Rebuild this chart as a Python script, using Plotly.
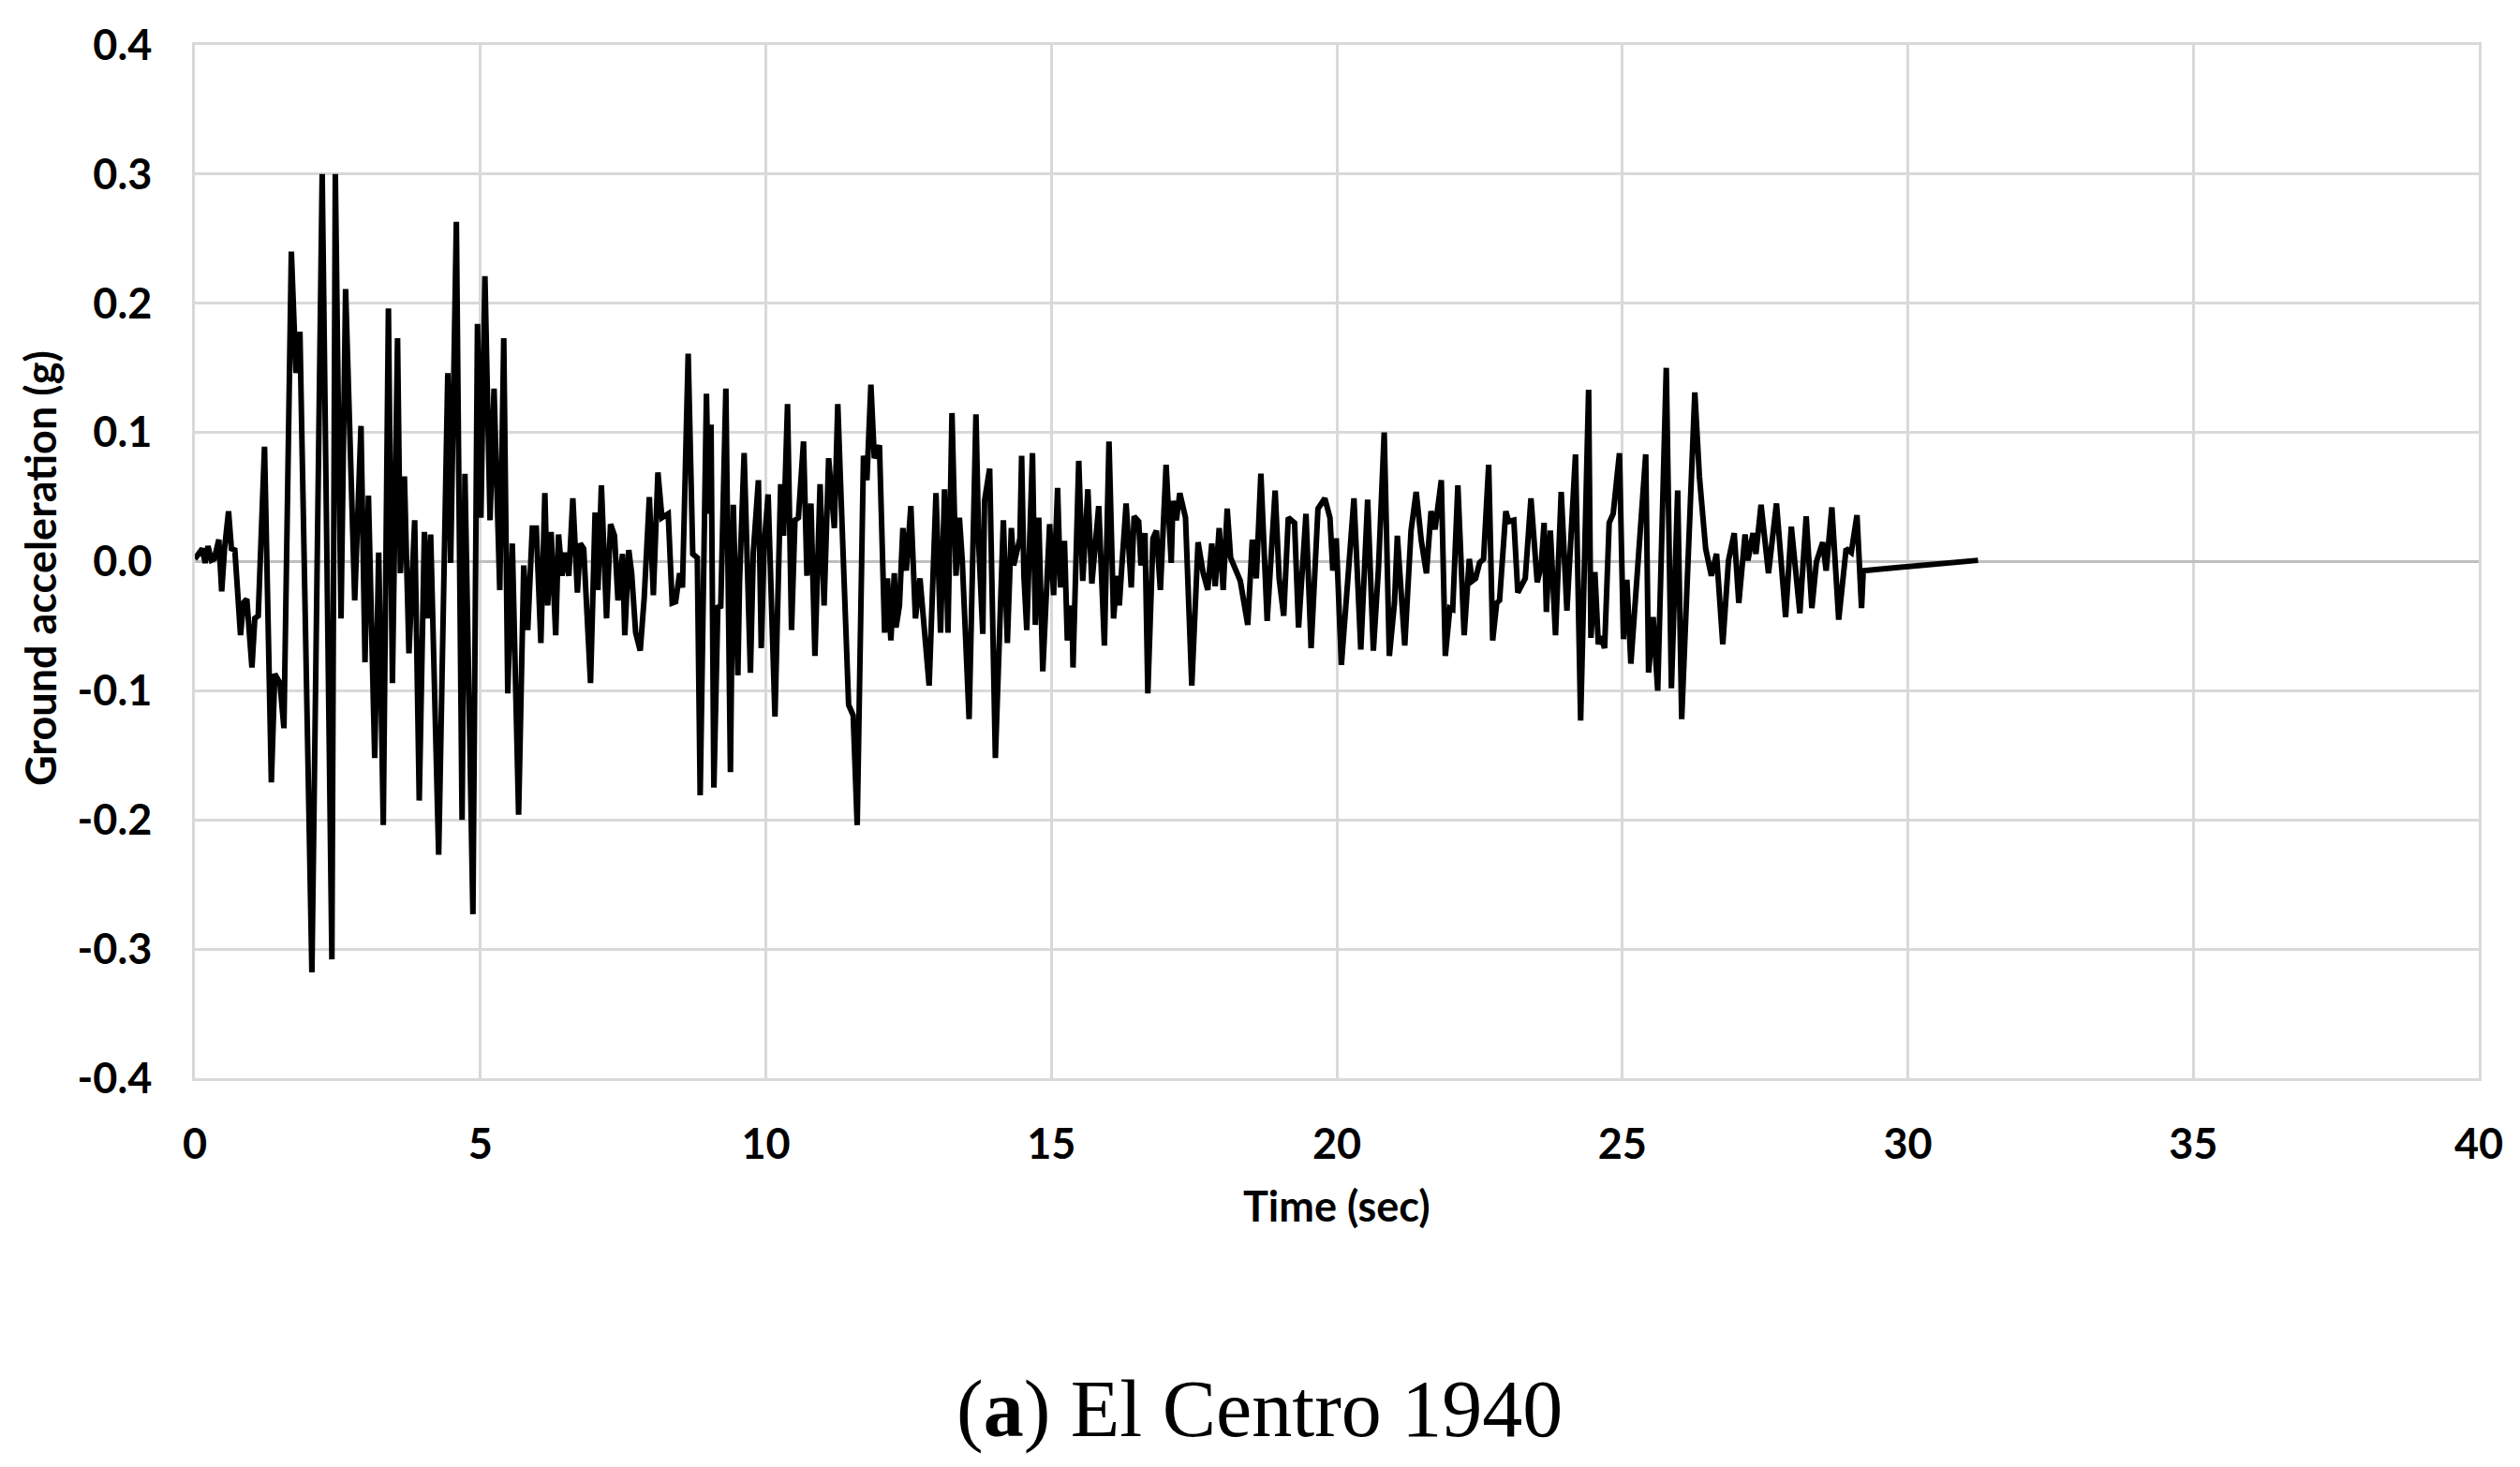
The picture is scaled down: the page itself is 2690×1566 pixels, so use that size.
import plotly.graph_objects as go

# Ground acceleration record
time_s = [
    0.00, 0.07, 0.13, 0.18, 0.23, 0.29, 0.34, 0.42, 0.47, 0.52, 0.59, 0.64, 0.70, 0.80, 0.85, 0.91,
    1.00, 1.05, 1.11, 1.22, 1.34, 1.40, 1.49, 1.56, 1.69, 1.77, 1.84, 2.05, 2.23, 2.40, 2.46, 2.56,
    2.64, 2.80, 2.91, 2.98, 3.04, 3.15, 3.22, 3.30, 3.39, 3.46, 3.55, 3.60, 3.67, 3.75, 3.85, 3.93,
    4.02, 4.07, 4.13, 4.27, 4.43, 4.48, 4.58, 4.68, 4.73, 4.87, 4.95, 5.01, 5.08, 5.17, 5.24, 5.34,
    5.41, 5.48, 5.56, 5.67, 5.76, 5.83, 5.91, 5.98, 6.06, 6.13, 6.18, 6.24, 6.32, 6.37, 6.43, 6.48,
    6.55, 6.62, 6.70, 6.75, 6.81, 6.93, 7.01, 7.06, 7.12, 7.21, 7.28, 7.35, 7.41, 7.49, 7.53, 7.60,
    7.65, 7.72, 7.80, 7.87, 7.96, 8.03, 8.11, 8.18, 8.29, 8.36, 8.42, 8.49, 8.54, 8.64, 8.72, 8.80,
    8.85, 8.96, 9.00, 9.04, 9.09, 9.16, 9.21, 9.30, 9.38, 9.43, 9.51, 9.54, 9.62, 9.73, 9.78, 9.87,
    9.92, 9.97, 10.04, 10.16, 10.26, 10.31, 10.38, 10.45, 10.51, 10.57, 10.66, 10.72, 10.79, 10.86, 10.95, 11.02,
    11.10, 11.20, 11.26, 11.31, 11.45, 11.53, 11.60, 11.71, 11.77, 11.84, 11.90, 11.99, 12.08, 12.13, 12.19, 12.25,
    12.28, 12.34, 12.40, 12.46, 12.54, 12.62, 12.70, 12.86, 12.98, 13.06, 13.13, 13.19, 13.26, 13.33, 13.39, 13.44,
    13.56, 13.68, 13.73, 13.80, 13.83, 13.92, 14.02, 14.16, 14.23, 14.30, 14.34, 14.45, 14.48, 14.52, 14.57, 14.67,
    14.72, 14.78, 14.85, 14.97, 15.04, 15.11, 15.16, 15.23, 15.28, 15.36, 15.38, 15.48, 15.55, 15.64, 15.71, 15.83,
    15.93, 16.01, 16.09, 16.15, 16.19, 16.23, 16.31, 16.40, 16.45, 16.53, 16.57, 16.64, 16.69, 16.78, 16.84, 16.91,
    17.01, 17.10, 17.13, 17.19, 17.25, 17.35, 17.46, 17.57, 17.66, 17.74, 17.81, 17.87, 17.94, 18.01, 18.08, 18.14,
    18.31, 18.44, 18.52, 18.59, 18.67, 18.78, 18.92, 18.99, 19.07, 19.15, 19.26, 19.33, 19.46, 19.55, 19.67, 19.79,
    19.88, 19.93, 19.99, 20.08, 20.16, 20.30, 20.42, 20.54, 20.64, 20.73, 20.83, 20.92, 21.01, 21.06, 21.19, 21.30,
    21.39, 21.48, 21.57, 21.65, 21.72, 21.83, 21.90, 21.98, 22.03, 22.12, 22.23, 22.32, 22.37, 22.43, 22.50, 22.57,
    22.66, 22.73, 22.80, 22.85, 22.96, 23.01, 23.10, 23.17, 23.23, 23.30, 23.40, 23.51, 23.58, 23.63, 23.67, 23.74,
    23.83, 23.93, 24.03, 24.10, 24.18, 24.27, 24.41, 24.45, 24.52, 24.58, 24.62, 24.69, 24.77, 24.84, 24.95, 25.02,
    25.08, 25.15, 25.41, 25.46, 25.54, 25.62, 25.77, 25.86, 25.97, 26.04, 26.27, 26.35, 26.46, 26.56, 26.65, 26.76,
    26.86, 26.96, 27.04, 27.15, 27.20, 27.29, 27.34, 27.43, 27.56, 27.70, 27.86, 27.96, 28.11, 28.22, 28.32, 28.40,
    28.51, 28.57, 28.67, 28.79, 28.92, 29.01, 29.11, 29.19, 29.22, 31.23,
]
accel_g = [
    0.002, 0.006, 0.010, -0.001, 0.012, 0.001, 0.002, 0.017, -0.023, 0.010, 0.039, 0.010, 0.009, -0.057, -0.032, -0.029,
    -0.082, -0.044, -0.042, 0.089, -0.171, -0.087, -0.094, -0.129, 0.240, 0.146, 0.178, -0.318, 0.300, -0.308, 0.300, -0.044,
    0.211, -0.030, 0.105, -0.078, 0.051, -0.152, 0.007, -0.204, 0.196, -0.094, 0.173, -0.009, 0.066, -0.071, 0.032, -0.185,
    0.023, -0.044, 0.021, -0.227, 0.146, -0.001, 0.263, -0.200, 0.068, -0.273, 0.184, 0.034, 0.221, 0.032, 0.134, -0.022,
    0.173, -0.102, 0.014, -0.196, -0.003, -0.053, 0.026, 0.026, -0.063, 0.053, -0.034, 0.023, -0.057, 0.021, -0.011, 0.007,
    -0.011, 0.049, -0.024, 0.014, 0.010, -0.094, 0.038, -0.022, 0.059, -0.044, 0.029, 0.020, -0.030, 0.006, -0.057, 0.009,
    -0.009, -0.055, -0.069, -0.028, 0.050, -0.026, 0.069, 0.034, 0.037, -0.032, -0.031, -0.009, -0.020, 0.161, 0.006, 0.003,
    -0.181, 0.130, 0.037, 0.106, -0.175, -0.034, -0.036, 0.134, -0.163, 0.044, -0.088, -0.015, 0.084, -0.086, 0.007, 0.063,
    -0.067, 0.012, 0.052, -0.120, 0.060, 0.020, 0.122, -0.053, 0.032, 0.034, 0.093, -0.011, 0.045, -0.073, 0.060, -0.034,
    0.080, 0.026, 0.122, 0.059, -0.111, -0.119, -0.204, 0.082, 0.063, 0.137, 0.080, 0.090, -0.055, -0.013, -0.061, -0.009,
    -0.051, -0.034, 0.026, -0.007, 0.043, -0.044, -0.013, -0.096, 0.053, -0.055, 0.056, -0.055, 0.115, -0.011, 0.034, 0.001,
    -0.122, 0.114, 0.012, -0.056, 0.047, 0.072, -0.152, 0.032, -0.063, 0.026, -0.003, 0.018, 0.082, -0.011, -0.053, 0.084,
    -0.049, 0.034, -0.085, 0.029, -0.026, 0.057, -0.020, 0.016, -0.061, -0.034, -0.082, 0.078, -0.015, 0.056, -0.017, 0.043,
    -0.065, 0.093, -0.044, -0.011, -0.034, -0.007, 0.045, -0.020, 0.035, 0.031, -0.003, 0.022, -0.102, 0.018, 0.024, -0.022,
    0.075, -0.001, 0.047, 0.032, 0.053, 0.034, -0.096, 0.015, -0.009, -0.022, 0.014, -0.019, 0.026, -0.022, 0.041, 0.003,
    -0.015, -0.049, 0.017, -0.013, 0.068, -0.046, 0.055, -0.013, -0.042, 0.034, 0.030, -0.051, 0.037, -0.067, 0.041, 0.049,
    0.034, -0.007, 0.018, -0.080, -0.032, 0.049, -0.068, 0.048, -0.069, -0.005, 0.100, -0.073, -0.032, 0.020, -0.065, 0.024,
    0.054, 0.016, -0.009, 0.039, 0.025, 0.063, -0.073, -0.036, -0.037, 0.059, -0.057, 0.002, -0.015, -0.013, -0.001, 0.002,
    0.075, -0.061, -0.032, -0.030, 0.039, 0.031, 0.032, -0.024, -0.019, -0.013, 0.049, -0.016, -0.003, 0.030, -0.039, 0.024,
    -0.057, 0.054, -0.038, 0.024, 0.083, -0.123, 0.133, -0.059, -0.008, -0.064, -0.058, -0.067, 0.030, 0.037, 0.084, -0.060,
    -0.014, -0.079, 0.083, -0.086, -0.043, -0.100, 0.150, -0.098, 0.055, -0.122, 0.131, 0.066, 0.010, -0.011, 0.006, -0.064,
    0.001, 0.022, -0.032, 0.021, 0.001, 0.022, 0.006, 0.044, -0.009, 0.045, -0.043, 0.027, -0.040, 0.035, -0.036, 0.000,
    0.015, -0.007, 0.042, -0.045, 0.010, 0.007, 0.036, -0.036, -0.007, 0.001,
]

x_tick_vals = [0, 5, 10, 15, 20, 25, 30, 35, 40]
x_tick_text = ["0", "5", "10", "15", "20", "25", "30", "35", "40"]
y_tick_vals = [-0.4, -0.3, -0.2, -0.1, 0.0, 0.1, 0.2, 0.3, 0.4]
y_tick_text = ["-0.4", "-0.3", "-0.2", "-0.1", "0.0", "0.1", "0.2", "0.3", "0.4"]

x_title = "Time (sec)"
y_title = "Ground acceleration (g)"
caption = "(<b>a</b>) El Centro 1940"

# page body adds an 8px margin, so the figure is slightly smaller than the window
W, H = 2682, 1558
L, R, T, B = 200, 44, 38, 415

grid_col = "#d9d9d9"
sans = "Lato, 'Open Sans', sans-serif"
tick_font = dict(family=sans, size=45, color="#000000", weight="bold")

fig = go.Figure()
fig.add_trace(go.Scatter(
    x=time_s, y=accel_g, mode="lines",
    line=dict(color="#000000", width=6),
    showlegend=False, hoverinfo="skip",
))

fig.update_layout(
    width=W, height=H,
    margin=dict(l=L, r=R, t=T, b=B, pad=0),
    paper_bgcolor="white", plot_bgcolor="white",
    xaxis=dict(
        range=[0, 40], tickvals=x_tick_vals, ticktext=x_tick_text,
        showgrid=True, gridcolor=grid_col, gridwidth=2.5,
        showline=True, linecolor=grid_col, linewidth=2.5, mirror=True,
        zeroline=False, ticks="outside", ticklen=29, tickcolor="rgba(0,0,0,0)",
        tickfont=tick_font,
    ),
    yaxis=dict(
        range=[-0.4, 0.4], tickvals=y_tick_vals, ticktext=y_tick_text,
        showgrid=True, gridcolor=grid_col, gridwidth=2.5,
        showline=True, linecolor=grid_col, linewidth=2.5, mirror=True,
        zeroline=True, zerolinecolor="#bfbfbf", zerolinewidth=2.5,
        ticks="outside", ticklen=34, tickcolor="rgba(0,0,0,0)",
        tickfont=tick_font,
    ),
    annotations=[
        dict(text=x_title, xref="paper", yref="paper", x=0.5, y=-0.123,
             xanchor="center", yanchor="middle", showarrow=False,
             font=dict(family=sans, size=45, color="#000000", weight="bold")),
        dict(text=y_title, xref="paper", yref="paper", x=-0.0677, y=0.494,
             xanchor="center", yanchor="middle", showarrow=False, textangle=-90,
             font=dict(family=sans, size=45, color="#000000", weight="bold")),
        dict(text=caption, xref="paper", yref="paper", x=0.466, y=-0.320,
             xanchor="center", yanchor="middle", showarrow=False,
             font=dict(family="'Liberation Serif', 'DejaVu Serif', serif", size=86, color="#000000")),
    ],
)

fig.write_html("out.html")
